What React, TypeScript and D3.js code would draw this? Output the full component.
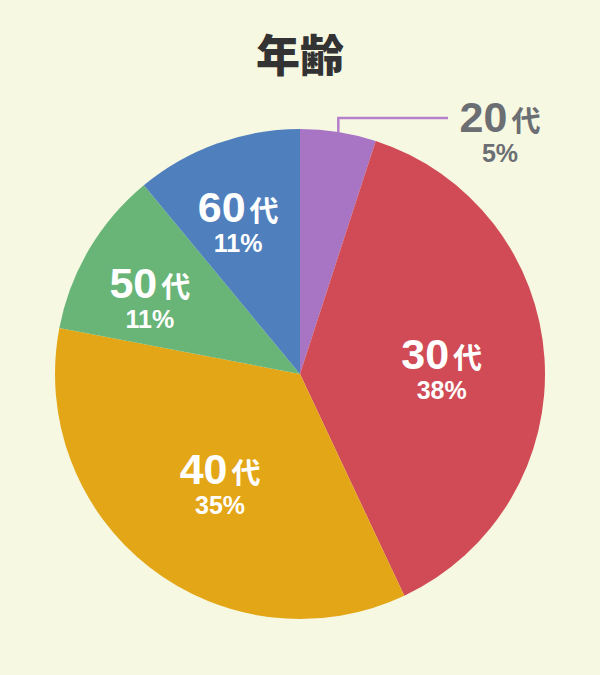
import React from 'react';
import * as d3 from 'd3';

const title = '年齢';
const ages = ['20', '30', '40', '50', '60'];
const shares = [5, 38, 35, 11, 11];
const colors = ['#a874c4', '#d04b55', '#e3a617', '#68b577', '#4f80bd'];
// Hand nudges for the inside labels, relative to the slice centroid.
const labelNudge: [number, number][] = [
  [0, 0],
  [-8, 4],
  [12, -9],
  [-21, 0],
  [-11, -11],
];

const W = 600;
const H = 675;
const cx = 300;
const cy = 374;
const R = 245;

const numFont = '"Liberation Sans", Arial, sans-serif';
const cjkFont = '"Noto Sans CJK JP", sans-serif';

function Label({ x, y, age, share, color }) {
  return (
    <g>
      <text x={x} y={y} textAnchor="middle" fill={color} fontWeight={700}>
        <tspan fontFamily={numFont} fontSize={43}>{age}</tspan>
        <tspan fontFamily={cjkFont} fontSize={29} dx={4}>代</tspan>
      </text>
      <text
        x={x}
        y={y + 30}
        textAnchor="middle"
        fill={color}
        fontWeight={700}
        fontFamily={numFont}
        fontSize={25}
      >
        {share}%
      </text>
    </g>
  );
}

export default function App() {
  const data = ages.map((age, i) => ({ age, share: shares[i], color: colors[i] }));
  const pie = d3
    .pie<any>()
    .sort(null)
    .value((d) => d.share)
    .startAngle(0)
    .endAngle(2 * Math.PI);
  const arcs = pie(data);
  const arc = d3.arc<any>().innerRadius(0).outerRadius(R);
  const labelArc = d3.arc<any>().innerRadius(150).outerRadius(150);
  const edgeArc = d3.arc<any>().innerRadius(R).outerRadius(R);

  // Leader for the small 20代 slice.
  const [ex, ey] = edgeArc.centroid(arcs[0]);
  const lineY = cy - R - 11;
  const lineEndX = cx + 148;

  return (
    <div>
      <style>{`body{margin:0}`}</style>
      <svg width={W} height={H} style={{ display: 'block' }}>
        <rect width={W} height={H} fill="#f7f8e2" />
        <text
          x={W / 2}
          y={72}
          textAnchor="middle"
          fontFamily={cjkFont}
          fontWeight={900}
          fontSize={44}
          fill="#333333"
        >
          {title}
        </text>
        <g transform={`translate(${cx},${cy})`}>
          {arcs.map((a, i) => (
            <path key={i} d={arc(a)} fill={a.data.color} />
          ))}
        </g>
        <path
          d={`M${cx + ex},${cy + ey}V${lineY}H${lineEndX}`}
          fill="none"
          stroke="#b57fcc"
          strokeWidth={2.5}
        />
        <Label
          x={lineEndX + 52}
          y={lineY + 14}
          age={arcs[0].data.age}
          share={arcs[0].data.share}
          color="#6b6e72"
        />
        {arcs.slice(1).map((a, j) => {
          const i = j + 1;
          const [lx, ly] = labelArc.centroid(a);
          return (
            <Label
              key={i}
              x={cx + lx + labelNudge[i][0]}
              y={cy + ly + labelNudge[i][1]}
              age={a.data.age}
              share={a.data.share}
              color="#ffffff"
            />
          );
        })}
      </svg>
    </div>
  );
}
